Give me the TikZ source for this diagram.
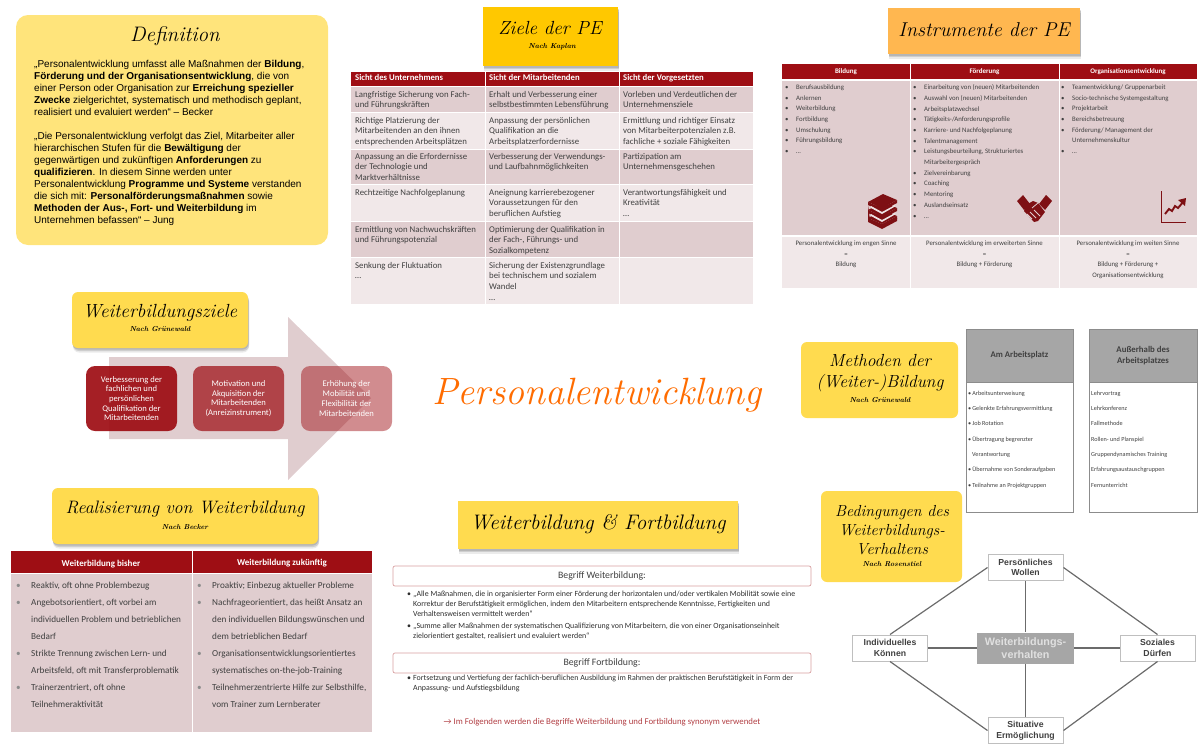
\documentclass[tikz,border=0pt]{standalone}
\usepackage{fontspec}
\usepackage{tikz}
\usetikzlibrary{shadows,arrows}
\newfontfamily\bodyfont{Carlito}
\newfontfamily\defifont{Liberation Sans}
\definecolor{wine}{HTML}{9E0E14}
\definecolor{rosedark}{HTML}{E0CDCF}
\definecolor{roselight}{HTML}{F1E8E9}
\definecolor{icondark}{HTML}{7E1014}
\definecolor{sticky}{HTML}{FFDB4F}
\definecolor{bodytext}{HTML}{404040}
\newcommand{\bulx}{\makebox[9pt][l]{\textbullet}}
\begin{document}
\begin{tikzpicture}[x=1pt,y=-1pt,>=stealth,
    title/.style={font=\itshape\fontsize{19}{22}\selectfont, align=center, text=black},
    sub/.style={font=\itshape\bfseries\fontsize{7.2}{9}\selectfont, text=black},
    note/.style={fill=sticky,
        drop shadow={shadow xshift=.5pt,shadow yshift=-1.5pt,opacity=.12,fill=black},
        drop shadow={shadow xshift=1pt,shadow yshift=-3pt,opacity=.12,fill=black},
        drop shadow={shadow xshift=1pt,shadow yshift=-4.5pt,opacity=.08,fill=black}},
    zelle/.style={anchor=north west, inner sep=0pt, align=left, text=bodytext, font=\bodyfont\fontsize{8.8}{10.6}\selectfont},
    kopf/.style={inner sep=0pt, text=white, font=\bodyfont\bfseries\fontsize{9}{11}\selectfont},
    klein/.style={anchor=north west, inner sep=0pt, align=left, text=bodytext, font=\bodyfont\fontsize{6.8}{10.7}\selectfont},
    fuss/.style={anchor=north, inner sep=0pt, align=center, text=bodytext, font=\bodyfont\fontsize{6.8}{10.7}\selectfont},
    ziel/.style={rounded corners=9pt, fill=wine, text=white, text opacity=1, minimum width=91pt, minimum height=65pt, inner sep=0pt, align=center, font=\bodyfont\fontsize{8.6}{9.7}\selectfont},
    begriff/.style={draw=wine!40, line width=.7pt, rounded corners=2pt, fill=white, minimum width=418pt, minimum height=20pt, inner sep=0pt, text=bodytext, font=\bodyfont\fontsize{9.8}{12}\selectfont},
    faktor/.style={draw=black!25, line width=1pt, fill=white, minimum width=75pt, minimum height=26pt, inner sep=0pt, align=center, text=bodytext, font=\defifont\bfseries\fontsize{8.7}{10.7}\selectfont},
    kante/.style={draw=black!58, line width=1.2pt}]
\useasboundingbox (0,0) rectangle (1200,750);

% Definition
\fill[fill=sticky!75!white, rounded corners=12pt] (16,15) rectangle (328,245);
\node[title, font=\itshape\fontsize{21}{24}\selectfont] (tdef) at (175,36) {Definition};
\node[anchor=north west, inner sep=0pt, align=left, font=\defifont\fontsize{10}{12}\selectfont] (def1) at (34,60) {%
„Personalentwicklung umfasst alle Maßnahmen der \textbf{Bildung},\\
\textbf{Förderung und der Organisationsentwicklung}, die von\\
einer Person oder Organisation zur \textbf{Erreichung spezieller}\\
\textbf{Zwecke} zielgerichtet, systematisch und methodisch geplant,\\
realisiert und evaluiert werden“ – Becker};
\node[anchor=north west, inner sep=0pt, align=left, font=\defifont\fontsize{10}{12}\selectfont] (def2) at (34,132) {%
„Die Personalentwicklung verfolgt das Ziel, Mitarbeiter aller\\
hierarchischen Stufen für die \textbf{Bewältigung} der\\
gegenwärtigen und zukünftigen \textbf{Anforderungen} zu\\
\textbf{qualifizieren}. In diesem Sinne werden unter\\
Personalentwicklung \textbf{Programme und Systeme} verstanden\\
die sich mit: \textbf{Personalförderungsmaßnahmen} sowie\\
\textbf{Methoden der Aus-, Fort- und Weiterbildung} im\\
Unternehmen befassen“ – Jung};

% Ziele der PE
\fill[wine] (351,72) rectangle (753,86);
\foreach \ya/\yb/\farbe in {87/112/rosedark,113/149/roselight,150/184/rosedark,185/221/roselight,222/257/rosedark,258/304/roselight}
    \fill[\farbe] (351,\ya) rectangle (753,\yb);
\draw[white, line width=.8pt] (485,72) -- (485,304) (619,72) -- (619,304);
\node[note, fill={rgb,255:red,255;green,200;blue,0}, minimum width=135pt, minimum height=59pt] (tziele) at (550.5,36.5) {};
\node[title] (tzieletext) at (550,28) {Ziele der PE};
\node[sub] (szieletext) at (552,47) {Nach Kaplan};
\node[zelle, text=white, font=\bodyfont\bfseries\fontsize{8.7}{10}\selectfont] (z01) at (355,74.5) {Sicht des Unternehmens};
\node[zelle, text=white, font=\bodyfont\bfseries\fontsize{8.7}{10}\selectfont] (z02) at (489,74.5) {Sicht der Mitarbeitenden};
\node[zelle, text=white, font=\bodyfont\bfseries\fontsize{8.7}{10}\selectfont] (z03) at (623,74.5) {Sicht der Vorgesetzten};
\node[zelle] (z11) at (355,91) {Langfristige Sicherung von Fach-\\und Führungskräften};
\node[zelle] (z12) at (489,91) {Erhalt und Verbesserung einer\\selbstbestimmten Lebensführung};
\node[zelle] (z13) at (623,91) {Vorleben und Verdeutlichen der\\Unternehmensziele};
\node[zelle] (z21) at (355,117) {Richtige Platzierung der\\Mitarbeitenden an den ihnen\\entsprechenden Arbeitsplätzen};
\node[zelle] (z22) at (489,117) {Anpassung der persönlichen\\Qualifikation an die\\Arbeitsplatzerfordernisse};
\node[zelle] (z23) at (623,117) {Ermittlung und richtiger Einsatz\\von Mitarbeiterpotenzialen z.B.\\fachliche + soziale Fähigkeiten};
\node[zelle] (z31) at (355,153) {Anpassung an die Erfordernisse\\der Technologie und\\Marktverhältnisse};
\node[zelle] (z32) at (489,153) {Verbesserung der Verwendungs-\\und Laufbahnmöglichkeiten};
\node[zelle] (z33) at (623,153) {Partizipation am\\Unternehmensgeschehen};
\node[zelle] (z41) at (355,189) {Rechtzeitige Nachfolgeplanung};
\node[zelle] (z42) at (489,189) {Aneignung karrierebezogener\\Voraussetzungen für den\\beruflichen Aufstieg};
\node[zelle] (z43) at (623,189) {Verantwortungsfähigkeit und\\Kreativität\\…};
\node[zelle] (z51) at (355,226) {Ermittlung von Nachwuchskräften\\und Führungspotenzial};
\node[zelle] (z52) at (489,226) {Optimierung der Qualifikation in\\der Fach-, Führungs- und\\Sozialkompetenz};
\node[zelle] (z61) at (355,262) {Senkung der Fluktuation\\…};
\node[zelle] (z62) at (489,262) {Sicherung der Existenzgrundlage\\bei technischem und sozialem\\Wandel\\…};

% Instrumente der PE
\fill[wine] (782,64) rectangle (1197,79);
\fill[rosedark] (782,81) rectangle (1197,235);
\fill[roselight] (782,237) rectangle (1197,288);
\draw[white, line width=.8pt] (910,64) -- (910,288) (1059,64) -- (1059,288);
\node[note, fill={rgb,255:red,255;green,183;blue,80}, minimum width=192pt, minimum height=46pt] (tinst) at (984,31) {};
\node[title, font=\itshape\fontsize{20}{22}\selectfont] (tinsttext) at (984,30) {Instrumente der PE};
\node[kopf, font=\bodyfont\bfseries\fontsize{7}{9}\selectfont] (ib) at (846,72) {Bildung};
\node[kopf, font=\bodyfont\bfseries\fontsize{7}{9}\selectfont] (if) at (984.5,72) {Förderung};
\node[kopf, font=\bodyfont\bfseries\fontsize{7}{9}\selectfont] (io) at (1128,72) {Organisationsentwicklung};
\node[klein] (ib1) at (785,84.5) {\bulx\hspace{2pt}Berufsausbildung\\\bulx\hspace{2pt}Anlernen\\\bulx\hspace{2pt}Weiterbildung\\\bulx\hspace{2pt}Fortbildung\\\bulx\hspace{2pt}Umschulung\\\bulx\hspace{2pt}Führungsbildung\\\bulx\hspace{2pt}…};
\node[klein] (if1) at (913,84.5) {\bulx\hspace{2pt}Einarbeitung von (neuen) Mitarbeitenden\\\bulx\hspace{2pt}Auswahl von (neuen) Mitarbeitenden\\\bulx\hspace{2pt}Arbeitsplatzwechsel\\\bulx\hspace{2pt}Tätigkeits-/Anforderungsprofile\\\bulx\hspace{2pt}Karriere- und Nachfolgeplanung\\\bulx\hspace{2pt}Talentmanagement\\\bulx\hspace{2pt}Leistungsbeurteilung, Strukturiertes\\\hspace*{11pt}Mitarbeitergespräch\\\bulx\hspace{2pt}Zielvereinbarung\\\bulx\hspace{2pt}Coaching\\\bulx\hspace{2pt}Mentoring\\\bulx\hspace{2pt}Auslandseinsatz\\\bulx\hspace{2pt}…};
\node[klein] (io1) at (1061,84.5) {\bulx\hspace{2pt}Teamentwicklung/ Gruppenarbeit\\\bulx\hspace{2pt}Socio-technische Systemgestaltung\\\bulx\hspace{2pt}Projektarbeit\\\bulx\hspace{2pt}Bereichsbetreuung\\\bulx\hspace{2pt}Förderung/ Management der\\\hspace*{11pt}Unternehmenskultur\\\bulx\hspace{2pt}…};
\node[fuss] (ib2) at (846,240.5) {Personalentwicklung im engen Sinne\\=\\Bildung};
\node[fuss] (if2) at (984.5,240.5) {Personalentwicklung im erweiterten Sinne\\=\\Bildung + Förderung};
\node[fuss] (io2) at (1128,240.5) {Personalentwicklung im weiten Sinne\\=\\Bildung + Förderung +\\Organisationsentwicklung};
% Symbole
\foreach \yb in {0,8,16}{
    \fill[icondark] (868,202+\yb) -- (883,194+\yb) -- (897,200+\yb) -- (882,208+\yb) -- cycle;
    \fill[icondark] (868,202+\yb) -- (882,208+\yb) -- (897,200+\yb) -- (897,203+\yb) -- (882,211+\yb) -- (868,205+\yb) -- cycle;
}
\fill[icondark] (868,205) -- (868,222) -- (882,229) -- (897,221) -- (897,218) -- (882,226) -- (870,220) -- cycle;
\fill[roselight!80!rosedark] (871,206) -- (882,212) -- (895,205) -- (895,206.5) -- (882,214) -- (871,208) -- cycle;
\fill[roselight!80!rosedark] (871,214) -- (882,220) -- (895,213) -- (895,214.5) -- (882,222) -- (871,216) -- cycle;
\fill[icondark] (1017,201) -- (1023,195) -- (1030,204) -- (1024,210) -- cycle;
\fill[icondark] (1052,201) -- (1046,195) -- (1039,204) -- (1045,210) -- cycle;
\fill[icondark] (1026,205) -- (1033,201) -- (1038,203) -- (1045,212) -- (1038,221) -- (1034,222) -- (1024,211) -- cycle;
\draw[rosedark, line width=.8pt] (1032,208) -- (1038,203) (1034,210) -- (1040,216) (1030,212) -- (1036,218) (1027,214) -- (1032,219);
\draw[icondark, line width=1.9pt] (1161.5,191) -- (1161.5,222.5) -- (1186,222.5);
\draw[icondark, line width=1.9pt] (1165,214) -- (1169,209) -- (1172,211) -- (1175,206) -- (1178,208) -- (1184,201);
\fill[icondark] (1186,198) -- (1178,200) -- (1185,206) -- cycle;

% Weiterbildungsziele
\fill[rosedark] (109,357) -- (288,357) -- (288,317) -- (371,398) -- (288,480) -- (288,439) -- (109,439) -- cycle;
\node[ziel, fill opacity=.93] (w1) at (131.5,398.5) {Verbesserung der\\fachlichen und\\persönlichen\\Qualifikation der\\Mitarbeitenden};
\node[ziel, fill opacity=.72] (w2) at (238.5,398.5) {Motivation und\\Akquisition der\\Mitarbeitenden\\(Anreizinstrument)};
\node[ziel, fill opacity=.48] (w3) at (346.5,398.5) {Erhöhung der\\Mobilität und\\Flexibilität der\\Mitarbeitenden};
\node[note, rounded corners=6pt, minimum width=176pt, minimum height=56pt] (twz) at (160,320) {};
\node[title] (twztext) at (160,313) {Weiterbildungsziele};
\node[sub] (swztext) at (160,329) {Nach Grünewald};

% Mitte
\node[font=\itshape\fontsize{38}{40}\selectfont, text=orange!85!red, inner sep=0pt] (mitte) at (597,395) {Personalentwicklung};

% Methoden
\node[fill=sticky, rounded corners=6pt, minimum width=157pt, minimum height=76pt] (tmeth) at (879.5,380) {};
\node[title, font=\itshape\fontsize{17.5}{21}\selectfont] (tmethtext) at (880,373) {Methoden der\\(Weiter-)Bildung};
\node[sub] (smethtext) at (880,400) {Nach Grünewald};
\fill[black!35] (966,329) rectangle (1073,382);
\fill[black!35] (1089,329) rectangle (1197,382);
\draw[black!45, line width=.7pt] (966,329) rectangle (1073,512) (966,382) -- (1073,382);
\draw[black!45, line width=.7pt] (1089,329) rectangle (1197,512) (1089,382) -- (1197,382);
\node[align=center, text=bodytext, font=\bodyfont\bfseries\fontsize{8.7}{10}\selectfont] (ma) at (1019.5,355) {Am Arbeitsplatz};
\node[align=center, text=bodytext, font=\bodyfont\bfseries\fontsize{8.8}{11}\selectfont] (ao) at (1143,356) {Außerhalb des\\Arbeitsplatzes};
\node[anchor=north west, inner sep=0pt, align=left, text=bodytext, font=\bodyfont\fontsize{6.2}{15.35}\selectfont] (ma1) at (968,390.5) {\textbullet\,Arbeitsunterweisung\\\textbullet\,Gelenkte Erfahrungsvermittlung\\\textbullet\,Job Rotation\\\textbullet\,Übertragung begrenzter\\\hspace*{4pt}Verantwortung\\\textbullet\,Übernahme von Sonderaufgaben\\\textbullet\,Teilnahme an Projektgruppen};
\node[anchor=north west, inner sep=0pt, align=left, text=bodytext, font=\bodyfont\fontsize{6.2}{15.35}\selectfont] (ao1) at (1091,390.5) {Lehrvortrag\\Lehrkonferenz\\Fallmethode\\Rollen- und Planspiel\\Gruppendynamisches Training\\Erfahrungsaustauschgruppen\\Fernunterricht};

% Realisierung
\fill[wine] (11,551) rectangle (372,573);
\fill[rosedark] (11,574) rectangle (372,732);
\draw[white, line width=.8pt] (192,551) -- (192,732);
\node[note, rounded corners=6pt, minimum width=266pt, minimum height=56pt] (treal) at (185,516) {};
\node[title, font=\itshape\fontsize{18}{21}\selectfont] (trealtext) at (185,509) {Realisierung von Weiterbildung};
\node[sub] (srealtext) at (185,527) {Nach Becker};
\node[kopf] (rb) at (101,564.5) {Weiterbildung bisher};
\node[kopf] (rz) at (282,563) {Weiterbildung zukünftig};
\node[zelle, font=\bodyfont\fontsize{9.2}{17}\selectfont] (rb1) at (16,581.5) {\makebox[15pt][l]{\textcolor{black!45}{\textbullet}}Reaktiv, oft ohne Problembezug\\\makebox[15pt][l]{\textcolor{black!45}{\textbullet}}Angebotsorientiert, oft vorbei am\\\hspace*{15pt}individuellen Problem und betrieblichen\\\hspace*{15pt}Bedarf\\\makebox[15pt][l]{\textcolor{black!45}{\textbullet}}Strikte Trennung zwischen Lern- und\\\hspace*{15pt}Arbeitsfeld, oft mit Transferproblematik\\\makebox[15pt][l]{\textcolor{black!45}{\textbullet}}Trainerzentriert, oft ohne\\\hspace*{15pt}Teilnehmeraktivität};
\node[zelle, font=\bodyfont\fontsize{9.2}{17}\selectfont] (rz1) at (197,581.5) {\makebox[15pt][l]{\textcolor{black!45}{\textbullet}}Proaktiv; Einbezug aktueller Probleme\\\makebox[15pt][l]{\textcolor{black!45}{\textbullet}}Nachfrageorientiert, das heißt Ansatz an\\\hspace*{15pt}den individuellen Bildungswünschen und\\\hspace*{15pt}dem betrieblichen Bedarf\\\makebox[15pt][l]{\textcolor{black!45}{\textbullet}}Organisationsentwicklungsorientiertes\\\hspace*{15pt}systematisches on-the-job-Training\\\makebox[15pt][l]{\textcolor{black!45}{\textbullet}}Teilnehmerzentrierte Hilfe zur Selbsthilfe,\\\hspace*{15pt}vom Trainer zum Lernberater};

% Weiterbildung & Fortbildung
\node[note, minimum width=280pt, minimum height=48pt] (twf) at (598,525) {};
\node[title, font=\itshape\fontsize{21}{24}\selectfont] (twftext) at (598,524) {Weiterbildung \& Fortbildung};
\node[begriff] (bw) at (602,576) {Begriff Weiterbildung:};
\node[begriff] (bf) at (602,663) {Begriff Fortbildung:};
\node[anchor=north west, inner sep=0pt, align=left, text=bodytext!70!black, font=\bodyfont\fontsize{7.9}{10}\selectfont] (bw1) at (407,591) {\makebox[6pt][l]{\textbullet}„Alle Maßnahmen, die in organisierter Form einer Förderung der horizontalen und/oder vertikalen Mobilität sowie eine\\\hspace*{6pt}Korrektur der Berufstätigkeit ermöglichen, indem den Mitarbeitern entsprechende Kenntnisse, Fertigkeiten und\\\hspace*{6pt}Verhaltensweisen vermittelt werden“\\[2pt]\makebox[6pt][l]{\textbullet}„Summe aller Maßnahmen der systematischen Qualifizierung von Mitarbeitern, die von einer Organisationseinheit\\\hspace*{6pt}zielorientiert gestaltet, realisiert und evaluiert werden“};
\node[anchor=north west, inner sep=0pt, align=left, text=bodytext!70!black, font=\bodyfont\fontsize{7.9}{10.3}\selectfont] (bf1) at (407,674.5) {\makebox[6pt][l]{\textbullet}Fortsetzung und Vertiefung der fachlich-beruflichen Ausbildung im Rahmen der praktischen Berufstätigkeit in Form der\\\hspace*{6pt}Anpassung- und Aufstiegsbildung};
\node[inner sep=0pt, text=wine!80!white, font=\bodyfont\fontsize{8.8}{10}\selectfont] (hinweis) at (602,722.5) {→ Im Folgenden werden die Begriffe Weiterbildung und Fortbildung synonym verwendet};

% Bedingungen
\node[fill=sticky, rounded corners=6pt, minimum width=141pt, minimum height=91pt] (tbed) at (891.5,536.5) {};
\node[title, font=\itshape\fontsize{16}{19}\selectfont] (tbedtext) at (892,530) {Bedingungen des\\Weiterbildungs-\\Verhaltens};
\node[sub] (sbedtext) at (892,564) {Nach Rosenstiel};
\node[faktor] (wollen) at (1025.5,567.5) {Persönliches\\Wollen};
\node[faktor] (koennen) at (890,648) {Individuelles\\Können};
\node[faktor] (duerfen) at (1157.5,648) {Soziales\\Dürfen};
\node[faktor] (ermoeg) at (1025.5,730.5) {Situative\\Ermöglichung};
\node[fill=black!35, minimum width=97pt, minimum height=31pt, inner sep=0pt, align=center, text=white!88!black, font=\defifont\bfseries\fontsize{10.8}{13}\selectfont] (verhalten) at (1025.5,648) {Weiterbildungs-\\verhalten};
% Kanten
\draw[kante] (wollen.west) -- (koennen.north);
\draw[kante] (wollen.east) -- (duerfen.north);
\draw[kante] (koennen.south) -- (ermoeg.west);
\draw[kante] (duerfen.south) -- (ermoeg.east);
\draw[kante] (wollen) -- (verhalten);
\draw[kante] (koennen) -- (verhalten);
\draw[kante] (duerfen) -- (verhalten);
\draw[kante] (ermoeg) -- (verhalten);
\end{tikzpicture}
\end{document}
